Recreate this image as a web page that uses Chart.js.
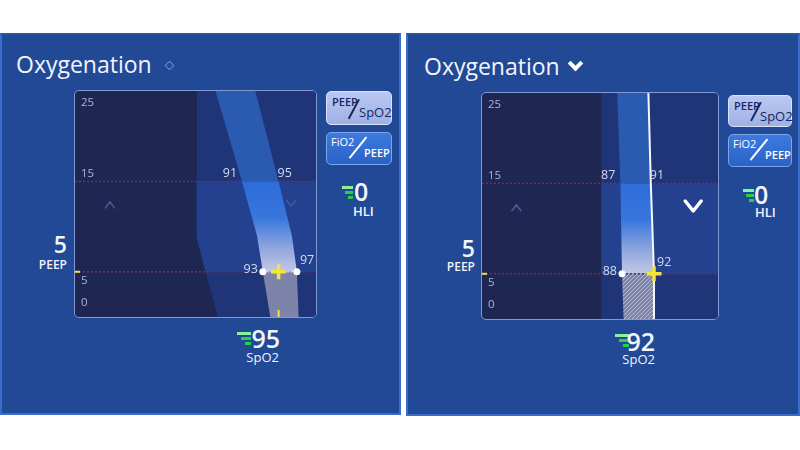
<!DOCTYPE html>
<html>
<head>
<meta charset="utf-8">
<title>Oxygenation</title>
<script src="https://cdn.jsdelivr.net/npm/chart.js@4.4.0/dist/chart.umd.min.js"></script>
<style>
  html, body { margin: 0; padding: 0; }
  body { width: 800px; height: 450px; position: relative; overflow: hidden; background: #ffffff; font-family: "Open Sans", sans-serif; color: #f2f4fa; }
  .abs { position: absolute; white-space: nowrap; line-height: 1; }
  .panel { position: absolute; box-sizing: border-box; background: #214996; border: 2px solid #3a6cca; border-top-color: #2b549f; }
  .title { font-size: 23px; color: #f3f5fb; }
  .plot { position: absolute; border: 1px solid #8299d4; border-radius: 5px; overflow: hidden; background: #1e2652; }
  .plot canvas { display: block; }
  .btn { position: absolute; box-sizing: border-box; width: 66px; height: 34px; border-radius: 5px; }
  .btn.on { background: linear-gradient(#bac8f1, #9fb2e6); border: 1px solid #d8e2fc; color: #16275f; }
  .btn.off { background: linear-gradient(#3d7ade, #2a62c8); border: 1px solid #7ea5ec; color: #ffffff; }
  .btn span, .cond { position: absolute; font-family: "Open Sans", sans-serif; font-weight: 600; line-height: 1; white-space: nowrap; }
  .btn i { position: absolute; width: 1.6px; transform-origin: 50% 50%; }
  .big { font-weight: 600; }
  .sig { position: absolute; width: 14px; height: 13px; }
  .sig b { position: absolute; right: 0; height: 2.5px; background: #26cf46; }
  .sig b:nth-child(1) { top: 0; width: 100%; background: #8af296; }
  .sig b:nth-child(2) { top: 5px; width: 72%; }
  .sig b:nth-child(3) { top: 10px; width: 45%; }
  .diamond { position: absolute; width: 5px; height: 5px; border: 1.5px solid #6a8acd; border-radius: 1px; transform: rotate(45deg); }
  .chev { position: absolute; width: 7px; height: 7px; border-right: 4px solid #ffffff; border-bottom: 4px solid #ffffff; transform: rotate(45deg); }
</style>
</head>
<body>

<div class="panel" style="left:0;top:33px;width:401px;height:382px"></div>
<div class="panel" style="left:406px;top:33px;width:394px;height:383px"></div>

<!-- left screen -->
<div class="abs title" style="left:16px;top:52.5px">Oxygenation</div>
<div class="diamond" style="left:166px;top:62px"></div>
<div class="plot" style="left:74px;top:90px"><canvas id="oxyL" width="241" height="226"></canvas></div>

<div class="btn on" style="left:326px;top:91px">
  <span style="left:5px;top:4px;font-size:11px">PEEP</span>
  <i style="left:26px;top:6px;height:21.5px;background:#16275f;transform:rotate(28deg)"></i>
  <span style="left:32px;top:14px;font-size:13px;font-weight:normal">SpO2</span>
</div>
<div class="btn off" style="left:326px;top:132px;height:33px">
  <span style="left:4px;top:3px;font-size:11px;font-weight:normal">FiO2</span>
  <i style="left:29.5px;top:1px;height:27px;background:#ffffff;transform:rotate(39deg)"></i>
  <span style="left:37px;top:14px;font-size:11px">PEEP</span>
</div>

<div class="sig" style="left:342px;top:186px;width:11px;height:11px"><b></b><b></b><b></b></div>
<div class="abs big" id="hliL" style="left:354px;top:179px;font-size:25px"></div>
<div class="cond" style="left:353px;top:204.5px;font-size:13px">HLI</div>

<div class="abs big" id="peepL" style="left:20px;width:47px;text-align:right;top:233px;font-size:23px"></div>
<div class="cond" style="left:20px;width:47px;text-align:right;top:259px;font-size:12px">PEEP</div>

<div class="sig" style="left:237px;top:332px"><b></b><b></b><b></b></div>
<div class="abs big" id="spo2L" style="left:230px;width:50px;text-align:right;top:326px;font-size:25px"></div>
<div class="abs" style="left:230px;width:49px;text-align:right;top:350.5px;font-size:13px">SpO2</div>

<!-- right screen -->
<div class="abs title" style="left:424px;top:55px">Oxygenation</div>
<div class="chev" style="left:569.5px;top:58px"></div>
<div class="plot" style="left:481px;top:92px"><canvas id="oxyR" width="236" height="226"></canvas></div>

<div class="btn on" style="left:728px;top:95px;width:64px;height:32px">
  <span style="left:5px;top:4px;font-size:11px">PEEP</span>
  <i style="left:26px;top:5px;height:21px;background:#16275f;transform:rotate(28deg)"></i>
  <span style="left:31px;top:14px;font-size:13px;font-weight:normal">SpO2</span>
</div>
<div class="btn off" style="left:728px;top:134px;width:64px;height:33px">
  <span style="left:4px;top:3px;font-size:11px;font-weight:normal">FiO2</span>
  <i style="left:29px;top:1px;height:27px;background:#ffffff;transform:rotate(39deg)"></i>
  <span style="left:36px;top:14px;font-size:11px">PEEP</span>
</div>

<div class="sig" style="left:743px;top:189px;width:11px;height:11px"><b></b><b></b><b></b></div>
<div class="abs big" id="hliR" style="left:754px;top:181.5px;font-size:25px"></div>
<div class="cond" style="left:755px;top:205.5px;font-size:13px">HLI</div>

<div class="abs big" id="peepR" style="left:428px;width:47px;text-align:right;top:236.5px;font-size:23px"></div>
<div class="cond" style="left:428px;width:47px;text-align:right;top:260.5px;font-size:12px">PEEP</div>

<div class="sig" style="left:615px;top:334px"><b></b><b></b><b></b></div>
<div class="abs big" id="spo2R" style="left:605px;width:50px;text-align:right;top:328.5px;font-size:25px"></div>
<div class="abs" style="left:605px;width:50px;text-align:right;top:352.5px;font-size:13px">SpO2</div>

<script>
// ============================
// DADOS
// ============================

var peepTicks = [0, 5, 15, 25];
var peepLines = [5, 15];

// tela da esquerda
var peepStepsL = [0, 5, 9, 15, 25];
var targetLoL = [94.0, 93.1, 92.4, 90.6, 87.4];
var targetHiL = [97.4, 97.2, 96.6, 95.0, 92.2];
var zoneStepsL = [0, 5, 8.8, 15, 25];
var zoneEdgeL = [87.7, 86.2, 85.15, 85.15, 85.15];
var edgeLabelsL = ['91', '95', '93', '97'];
var hintXL = [74.7, 96.5];
var hintYL = [12.4, 12.6];
var hintUpL = [true, false];
var hintBoldL = [false, false];
var peepL = 5;
var spo2L = 95;
var hliL = 0;

// tela da direita
var peepStepsR = [0, 5, 15, 25];
var targetLoR = [88.2, 88.0, 87.8, 87.4];
var targetHiR = [92.1, 92.0, 91.6, 91.3];
var zoneStepsR = [0, 5, 15, 25];
var zoneEdgeR = [85.4, 85.4, 85.4, 85.4];
var edgeLabelsR = ['87', '91', '88', '92'];
var hintXR = [74.8, 96.9];
var hintYR = [12.3, 12.5];
var hintUpR = [true, false];
var hintBoldR = [false, true];
var peepR = 5;
var spo2R = 92;
var hliR = 0;

// deslocamento vertical dos rótulos do eixo PEEP (px)
var tickShift = [-14, 9, -8, 12];

// ============================
// AUXILIARES
// ============================

function stationPts(steps, vals, from, to) {
    var out = [];
    for (var i = 0; i < steps.length; i++) {
        if (steps[i] >= from && steps[i] <= to) out.push({ x: vals[i], y: steps[i] });
    }
    return out;
}

function bandShape(steps, lo, hi, from, to) {
    return stationPts(steps, lo, from, to).concat(stationPts(steps, hi, from, to).reverse());
}

function zoneShape(steps, edge, xMax, from, to) {
    return stationPts(steps, edge, from, to).concat([{ x: xMax, y: to }, { x: xMax, y: from }]);
}

function at(steps, vals, p) {
    return vals[steps.indexOf(p)];
}

function makeHatch(ctx) {
    var c = document.createElement('canvas');
    c.width = 4; c.height = 4;
    var g = c.getContext('2d');
    g.fillStyle = '#7f84aa';
    g.fillRect(0, 0, 4, 4);
    g.strokeStyle = '#b3b7d2';
    g.lineWidth = 1;
    g.beginPath(); g.moveTo(0, 4); g.lineTo(4, 0); g.stroke();
    return ctx.createPattern(c, 'repeat');
}

function midGradient(context) {
    var chart = context.chart;
    if (!chart.chartArea) return '#3273d7';
    var y = chart.scales.y;
    var g = chart.ctx.createLinearGradient(0, y.getPixelForValue(15), 0, y.getPixelForValue(5));
    g.addColorStop(0, '#2e6dd8');
    g.addColorStop(0.4, '#3676dc');
    g.addColorStop(0.75, '#93a8de');
    g.addColorStop(1, '#c2c8e6');
    return g;
}

// ============================
// GRÁFICO
// ============================

function drawOxygenation(canvasId, s) {
    var canvas = document.getElementById(canvasId);
    var lowFill = s.hatched ? makeHatch(canvas.getContext('2d')) : '#7e83aa';
    var lo5 = at(s.steps, s.lo, 5);
    var hi5 = at(s.steps, s.hi, 5);
    var sets = [];

    sets.push({ data: zoneShape(s.zoneSteps, s.zoneEdge, s.xMax, 0, 25), backgroundColor: '#1f3577', fill: 'shape' });
    sets.push({ data: zoneShape(s.zoneSteps, s.zoneEdge, s.xMax, 5, 15), backgroundColor: '#23418f', fill: 'shape' });
    peepLines.forEach(function (p) {
        sets.push({ data: [{ x: s.xMin, y: p }, { x: s.xMax, y: p }], borderColor: '#6e3062', borderWidth: 1.5, borderDash: [2, 2] });
    });
    sets.push({ data: bandShape(s.steps, s.lo, s.hi, 15, 25), backgroundColor: '#2b5ab1', fill: 'shape' });
    sets.push({ data: bandShape(s.steps, s.lo, s.hi, 5, 15), backgroundColor: midGradient, fill: 'shape' });
    sets.push({ data: bandShape(s.steps, s.lo, s.hi, 0, 5), backgroundColor: lowFill, fill: 'shape' });
    if (s.whiteEdge) {
        sets.push({ data: stationPts(s.steps, s.hi, 0, 25), borderColor: '#f5f7ff', borderWidth: 2 });
    }
    sets.push({ data: [{ x: lo5, y: 5 }, { x: s.twoDots ? hi5 : s.spo2, y: 5 }], borderColor: s.linkColor, borderWidth: 1.5, borderDash: [2, 2] });
    sets.push({
        data: (s.twoDots ? [lo5, hi5] : [lo5]).map(function (v) { return { x: v, y: 5 }; }),
        showLine: false, pointRadius: 3.5, pointBackgroundColor: '#ffffff', pointBorderWidth: 0
    });
    sets.push({ data: [{ x: s.xMin, y: s.peep }], showLine: false, pointStyle: 'line', pointRadius: 5, pointBorderColor: '#f3e43c', pointBorderWidth: 2 });
    if (s.bottomMark) {
        sets.push({ data: [{ x: s.spo2, y: 0 }], showLine: false, pointStyle: 'line', pointRotation: 90, pointRadius: 7, pointBorderColor: '#f3e43c', pointBorderWidth: 2 });
    }
    sets.push({ data: [{ x: s.spo2, y: s.peep }], showLine: false, pointStyle: 'cross', pointRadius: 7.5, pointBorderColor: '#f3e43c', pointBorderWidth: 3.5 });

    sets.forEach(function (d, i) {
        d.type = 'line';
        d.order = sets.length - i;
        d.tension = 0;
        if (d.fill === undefined) d.fill = false;
        if (d.borderWidth === undefined) d.borderWidth = 0;
        if (d.pointRadius === undefined) d.pointRadius = 0;
    });

    // rótulos do eixo, valores das bordas e setas
    var textPlugin = {
        id: 'oxyText',
        afterDatasetsDraw: function (chart) {
            var c = chart.ctx, x = chart.scales.x, y = chart.scales.y, a = chart.chartArea;
            c.save();
            c.textBaseline = 'middle';
            c.textAlign = 'left';
            c.font = '11.5px "Open Sans"';
            c.fillStyle = '#aeb6d2';
            peepTicks.forEach(function (t, i) {
                c.fillText(String(t), a.left + 6, y.getPixelForValue(t) + tickShift[i]);
            });

            var i15 = s.steps.indexOf(15);
            var spots = [
                [s.lo[i15], 15, 'right', -5, -8],
                [s.hi[i15], 15, 'left', -1, -8],
                [lo5, 5, 'right', -5, -2],
                [hi5, 5, 'left', 3, -11]
            ];
            c.font = '12.5px "Open Sans"';
            c.fillStyle = '#d6daea';
            spots.forEach(function (p, i) {
                c.textAlign = p[2];
                c.fillText(s.labels[i], x.getPixelForValue(p[0]) + p[3], y.getPixelForValue(p[1]) + p[4]);
            });

            s.hintX.forEach(function (hx, i) {
                var px = x.getPixelForValue(hx), py = y.getPixelForValue(s.hintY[i]);
                var bold = s.hintBold[i];
                var w = bold ? 8 : 4.5, h = bold ? 5 : 3, dir = s.hintUp[i] ? -1 : 1;
                c.beginPath();
                c.moveTo(px - w, py - dir * h);
                c.lineTo(px, py + dir * h);
                c.lineTo(px + w, py - dir * h);
                c.strokeStyle = bold ? '#ffffff' : '#4d5c95';
                c.lineWidth = bold ? 3.5 : 1.5;
                c.lineJoin = 'round';
                c.lineCap = 'round';
                c.stroke();
            });
            c.restore();
        }
    };

    return new Chart(canvas, {
        type: 'line',
        data: { datasets: sets },
        options: {
            responsive: false,
            animation: false,
            events: [],
            layout: { padding: 0, autoPadding: false },
            scales: {
                x: { type: 'linear', min: s.xMin, max: s.xMax, display: false },
                y: { type: 'linear', min: 0, max: 25, display: false }
            },
            plugins: {
                legend: { display: false },
                tooltip: { enabled: false }
            }
        },
        plugins: [textPlugin]
    });
}

document.addEventListener('DOMContentLoaded', function () {

    // ============================
    // TELA 1 - ANTES
    // ============================
    drawOxygenation('oxyL', {
        steps: peepStepsL, lo: targetLoL, hi: targetHiL,
        zoneSteps: zoneStepsL, zoneEdge: zoneEdgeL, labels: edgeLabelsL,
        hintX: hintXL, hintY: hintYL, hintUp: hintUpL, hintBold: hintBoldL,
        peep: peepL, spo2: spo2L, xMin: 70.5, xMax: 99.5,
        hatched: false, whiteEdge: false, twoDots: true, bottomMark: true,
        linkColor: 'rgba(232,236,250,0.8)'
    });
    document.getElementById('peepL').textContent = peepL;
    document.getElementById('spo2L').textContent = spo2L;
    document.getElementById('hliL').textContent = hliL;

    // ============================
    // TELA 2 - DEPOIS
    // ============================
    drawOxygenation('oxyR', {
        steps: peepStepsR, lo: targetLoR, hi: targetHiR,
        zoneSteps: zoneStepsR, zoneEdge: zoneEdgeR, labels: edgeLabelsR,
        hintX: hintXR, hintY: hintYR, hintUp: hintUpR, hintBold: hintBoldR,
        peep: peepR, spo2: spo2R, xMin: 70.5, xMax: 100,
        hatched: true, whiteEdge: true, twoDots: false, bottomMark: false,
        linkColor: '#3b4266'
    });
    document.getElementById('peepR').textContent = peepR;
    document.getElementById('spo2R').textContent = spo2R;
    document.getElementById('hliR').textContent = hliR;
});
</script>
</body>
</html>
